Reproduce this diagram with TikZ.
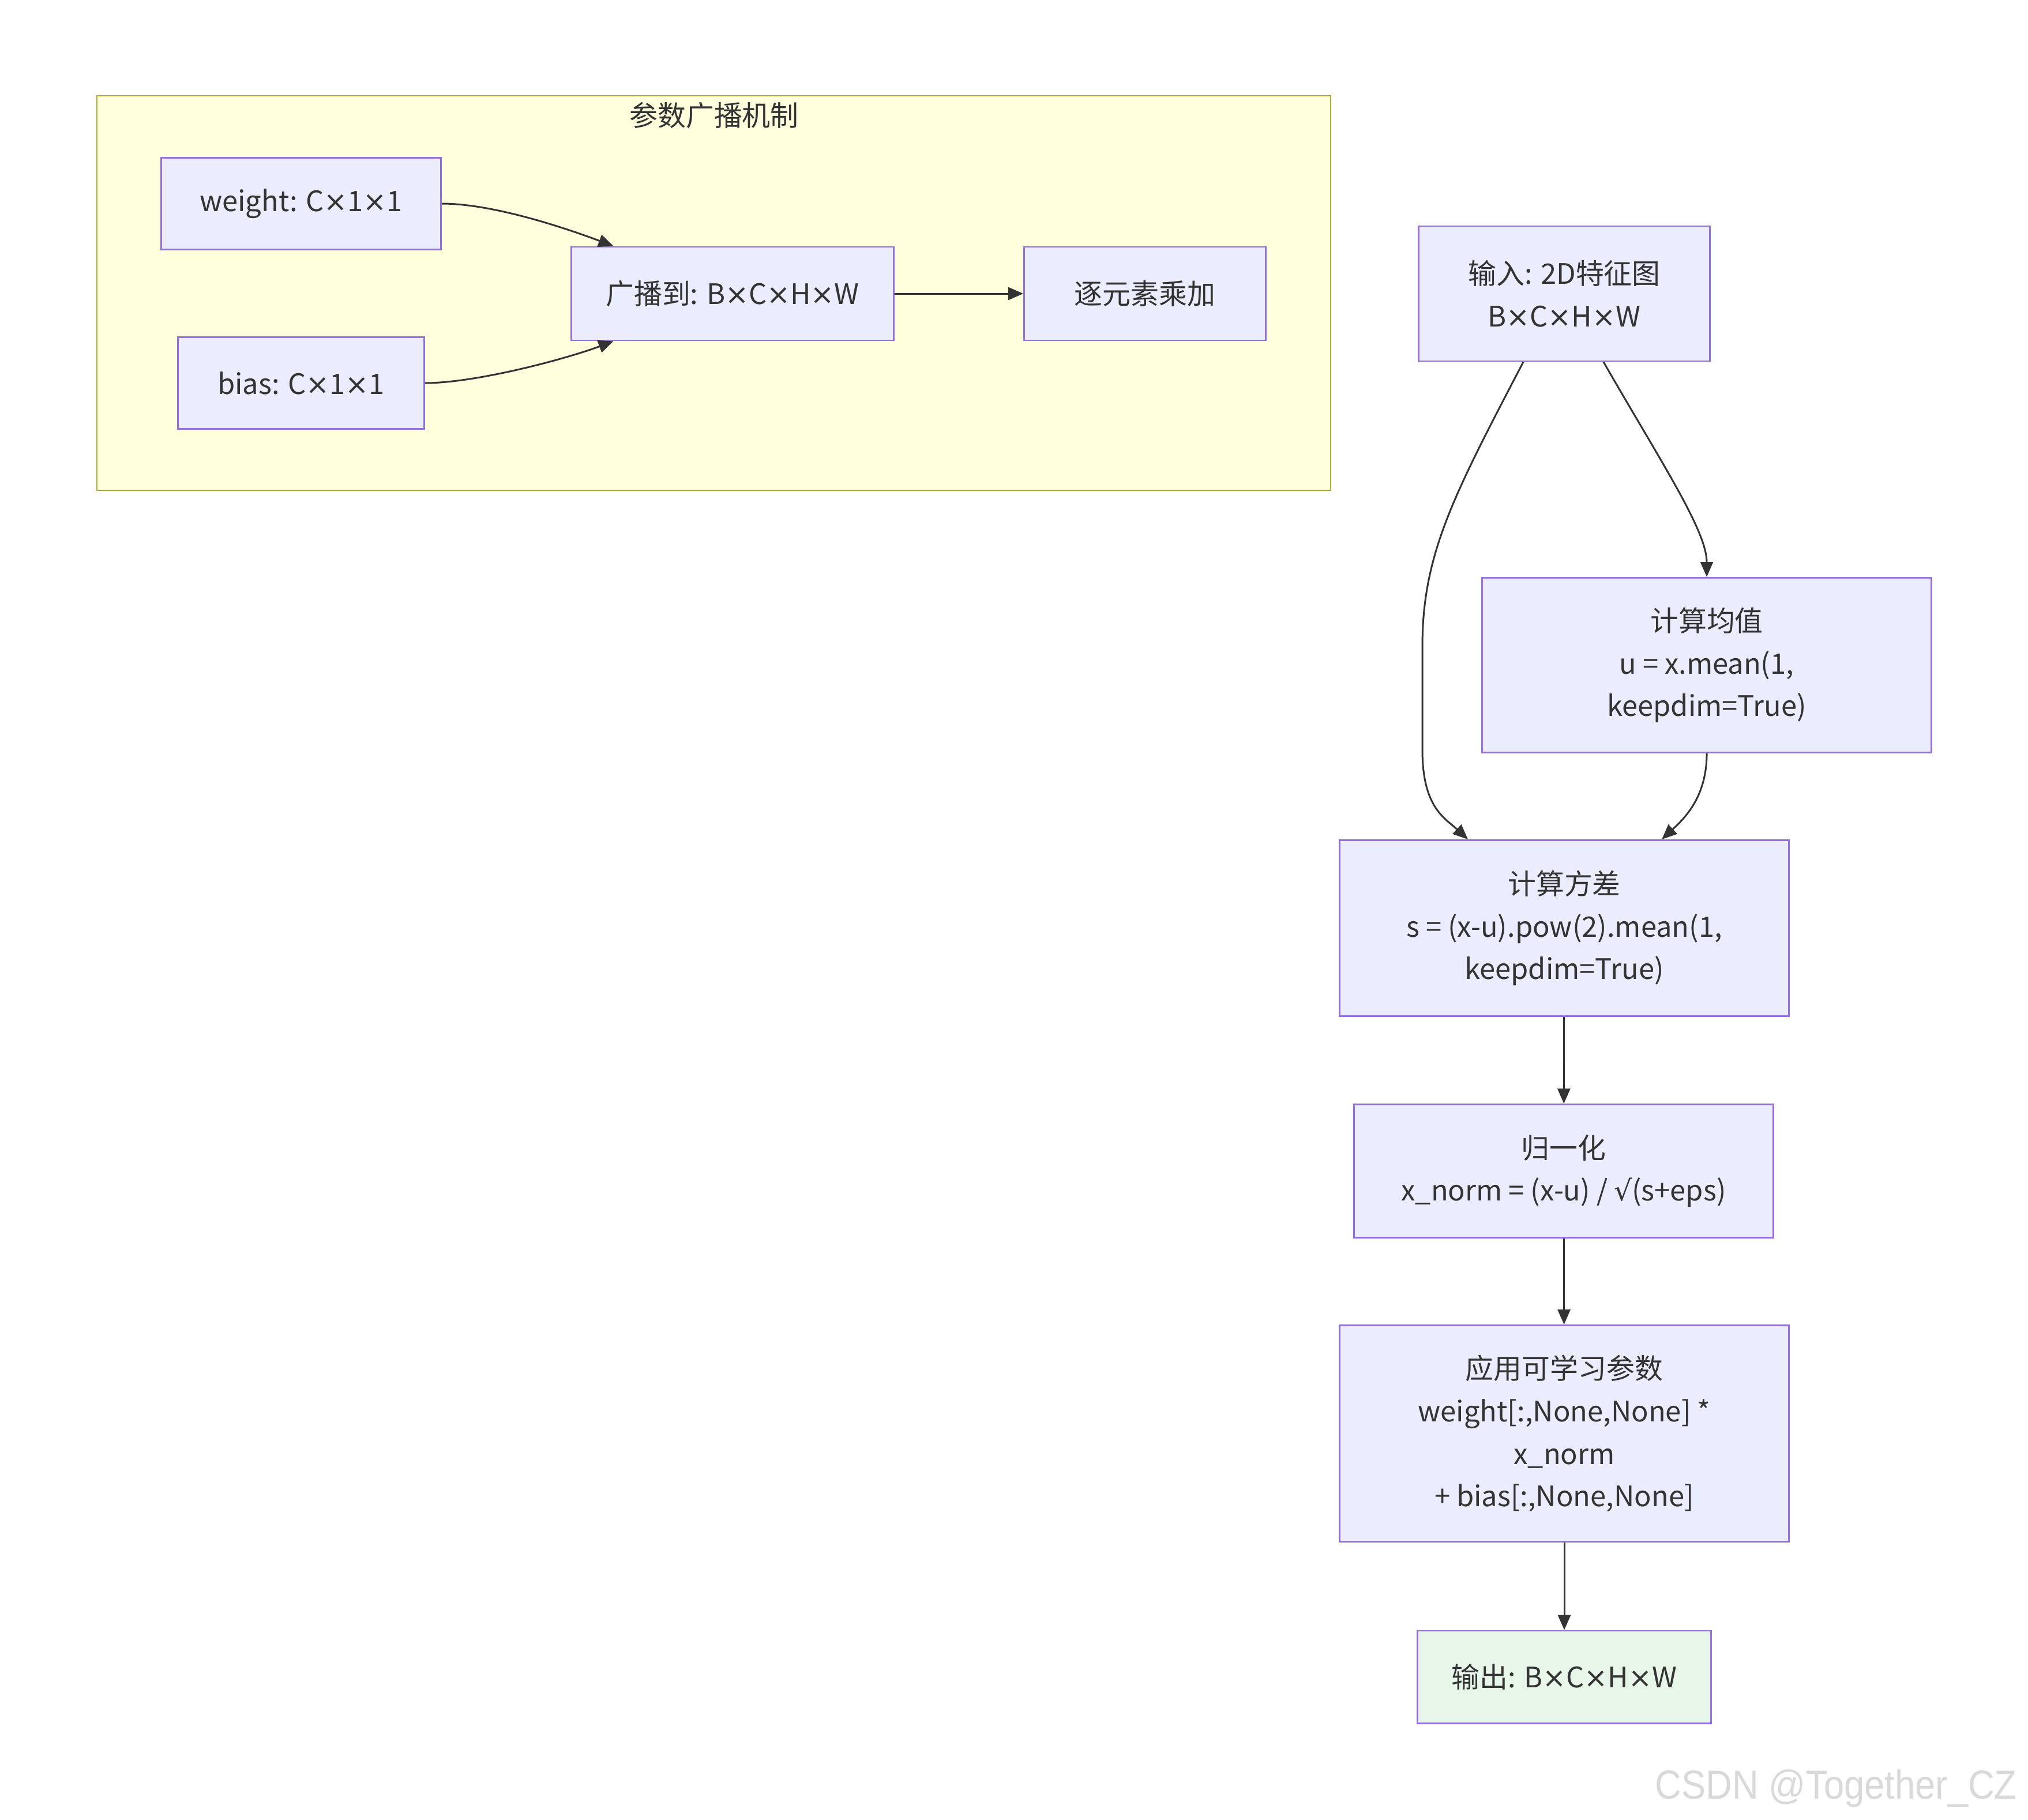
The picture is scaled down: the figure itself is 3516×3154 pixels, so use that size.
\documentclass[tikz,border=0pt]{standalone}
\usepackage{fontspec}
\setmainfont{Noto Sans CJK SC}
\newfontfamily\markfont[FakeStretch=0.9]{Liberation Sans}
\newfontfamily\symfont{DejaVu Sans}
\newcommand\by{{\symfont ×}}
\usetikzlibrary{arrows.meta}

\definecolor{boxfill}{HTML}{ECECFF}
\definecolor{boxline}{HTML}{9370DB}
\definecolor{grpfill}{HTML}{FFFFDE}
\definecolor{grpline}{HTML}{AAAA33}
\definecolor{outfill}{HTML}{E8F5E9}
\definecolor{ink}{HTML}{333333}

\tikzset{
  box/.style={draw=boxline, fill=boxfill, line width=0.8pt, text=ink, align=center,
    inner sep=0pt, font=\fontsize{13.9pt}{21pt}\selectfont},
  arr/.style={-{Triangle[length=0.26cm,width=0.22cm]}, draw=ink, line width=0.85pt}
}

\begin{document}
\begin{tikzpicture}[x=0.01cm, y=-0.01cm]
\useasboundingbox (0,0) rectangle (3516,3154);

% broadcast group
\draw [grpline, fill=grpfill, line width=0.8pt] (168,166) rectangle (2307,850);
\node (grp) [text=ink, font=\fontsize{13.9pt}{21pt}\selectfont] at (1238,200) {参数广播机制};

\node (weight) [box, minimum width=4.85cm, minimum height=1.59cm] at (522,353) {weight: C\by1\by1};
\node (bias) [box, minimum width=4.26cm, minimum height=1.59cm] at (522,664) {bias: C\by1\by1};
\node (bcast) [box, minimum width=5.58cm, minimum height=1.62cm] at (1270,509) {广播到: B\by C\by H\by W};
\node (elem) [box, minimum width=4.19cm, minimum height=1.62cm] at (1985,509) {逐元素乘加};

\draw [arr] (weight.east) .. controls +(90,0) and +(-80,-30) .. ([xshift=0.74cm]bcast.north west);
\draw [arr] (bias.east) .. controls +(90,0) and +(-80,30) .. ([xshift=0.74cm]bcast.south west);
\draw [arr] (bcast) -- (elem);

% main flow
\node (in) [box, minimum width=5.04cm, minimum height=2.34cm] at (2712,509) {输入: 2D特征图\\B\by C\by H\by W};
\node (mean) [box, minimum width=7.78cm, minimum height=3.03cm] at (2959,1153) {计算均值\\u = x.mean(1,\\keepdim=True)};
\node (var) [box, minimum width=7.78cm, minimum height=3.05cm] at (2712,1609) {计算方差\\s = (x-u).pow(2).mean(1,\\keepdim=True)};
\node (norm) [box, minimum width=7.26cm, minimum height=2.31cm] at (2711,2030) {归一化\\x\_norm = (x-u) / {\symfont √}(s+eps)};
\node (apply) [box, minimum width=7.78cm, minimum height=3.75cm] at (2712,2485) {应用可学习参数\\weight[:,None,None] *\\x\_norm\\+ bias[:,None,None]};
\node (out) [box, fill=outfill, minimum width=5.08cm, minimum height=1.60cm] at (2712,2907) {输出: B\by C\by H\by W};

\draw [arr] ([xshift=-0.71cm]in.south) .. controls +(-120,230) and +(0,-160) .. (2466,1120)
  -- (2466,1300) .. controls +(0,100) and +(-40,-37) .. ([xshift=-1.67cm]var.north);
\draw [arr] ([xshift=0.68cm]in.south) .. controls +(100,174) and +(0,-80) .. (mean.north);
\draw [arr] (mean.south) .. controls +(0,75) and +(40,-37) .. ([xshift=1.69cm]var.north);
\draw [arr] (var) -- (norm);
\draw [arr] (norm) -- (apply);
\draw [arr] (apply) -- (out);

\node (mark) [anchor=base east, text=gray!30, font=\markfont\fontsize{20pt}{22pt}\selectfont] at (3509,3118) {CSDN @Together\_CZ};
\end{tikzpicture}
\end{document}
